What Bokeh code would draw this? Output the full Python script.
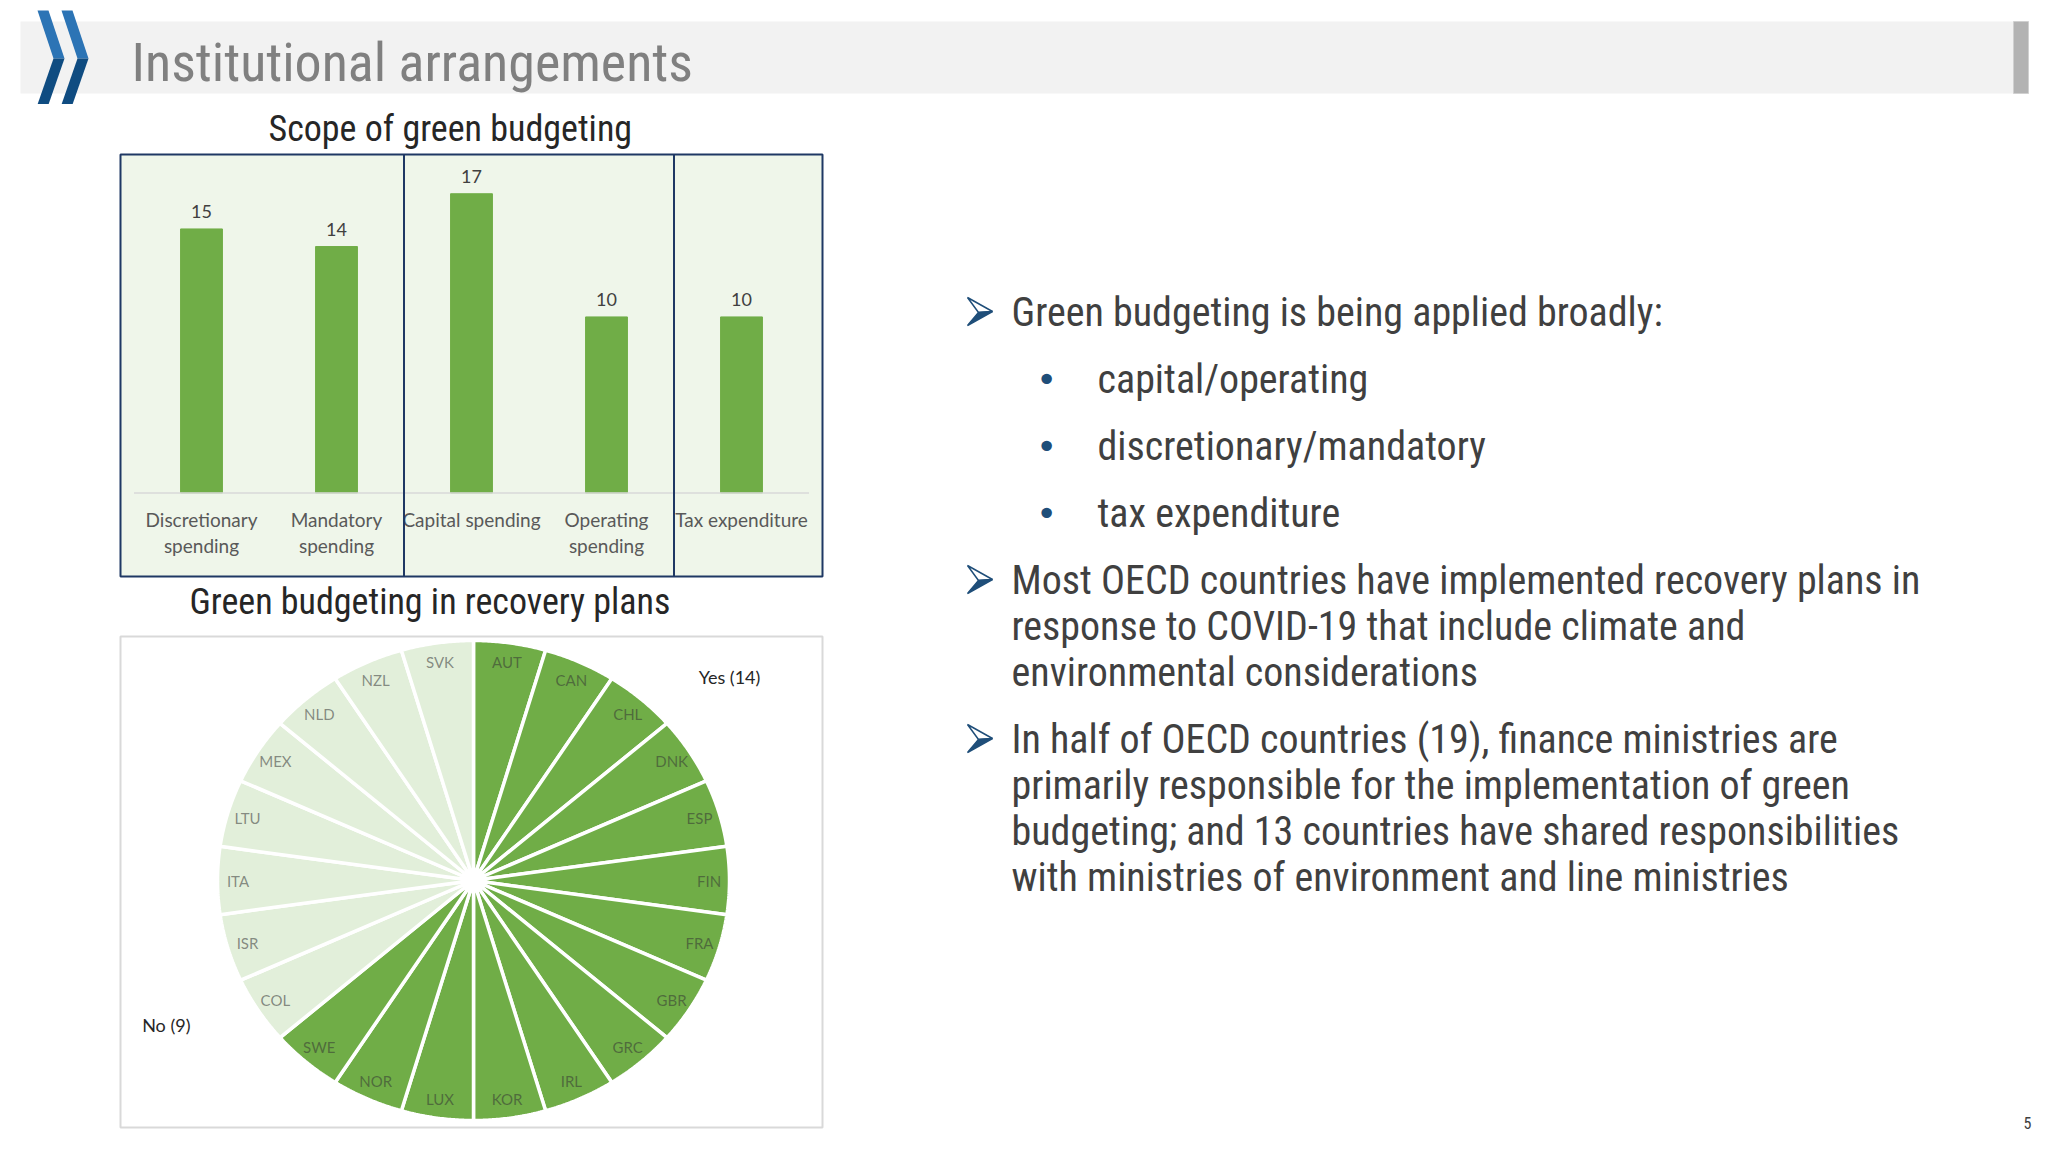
import numpy as np
from bokeh.plotting import figure
from bokeh.models import Range1d, Span, FactorRange, Label
from bokeh.layouts import column, row
from bokeh.embed import file_html
from bokeh.resources import INLINE
from bokeh.core.properties import value

# ---------------- data ----------------
slide_title = "Institutional arrangements"
page_number = "5"

bar_title = "Scope of green budgeting"
bar_categories = ["Discretionary spending", "Mandatory spending", "Capital spending",
                  "Operating spending", "Tax expenditure"]
bar_tick_labels = ["Discretionary\nspending", "Mandatory\nspending", "Capital spending",
                   "Operating\nspending", "Tax expenditure"]
bar_values = [15, 14, 17, 10, 10]
bar_group_sizes = [2, 2, 1]

pie_title = "Green budgeting in recovery plans"
pie_countries = ["AUT", "CAN", "CHL", "DNK", "ESP", "FIN", "FRA", "GBR", "GRC", "IRL", "KOR",
                 "LUX", "NOR", "SWE", "COL", "ISR", "ITA", "LTU", "MEX", "NLD", "NZL", "SVK"]
pie_answers = ["Yes", "Yes", "Yes", "Yes", "Yes", "Yes", "Yes", "Yes", "Yes", "Yes", "Yes",
               "Yes", "Yes", "Yes", "No", "No", "No", "No", "No", "No", "No", "No"]
pie_values = [1, 1, 1, 1, 1, 1, 1, 1, 1, 1, 1, 1, 1, 1, 1, 1, 1, 1, 1, 1, 1, 1]
pie_group_labels = ["Yes (14)", "No (9)"]

text_items = [
    ("arrow", ["Green budgeting is being applied broadly:"]),
    ("dot", ["capital/operating"]),
    ("dot", ["discretionary/mandatory"]),
    ("dot", ["tax expenditure"]),
    ("arrow", ["Most OECD countries have implemented recovery plans in",
               "response to COVID-19 that include climate and",
               "environmental considerations"]),
    ("arrow", ["In half of OECD countries (19), finance ministries are",
               "primarily responsible for the implementation of green",
               "budgeting; and 13 countries have shared responsibilities",
               "with ministries of environment and line ministries"]),
]

# ---------------- styles ----------------
NARROW = "Roboto Condensed"
CAL = "Lato"
GREEN = "#70ad47"
LIGHT = "#e2efda"
NAVY = "#1f3864"
BLUE = "#1f4e79"
LEFT_COL_W = 840
BORDER_L, BORDER_R = 120, 18   # shared frame borders of the left-hand column


def canvas(x0, x1, y0, y1, bl=0, br=0):
    p = figure(width=x1 - x0, height=y1 - y0, x_range=Range1d(x0 + bl, x1 - br), y_range=Range1d(y1, y0),
               output_backend="svg", toolbar_location=None, x_axis_type=None, y_axis_type=None,
               min_border_left=bl, min_border_right=br, min_border_top=0, min_border_bottom=0)
    p.outline_line_color = None
    p.background_fill_color = "white"
    p.border_fill_color = "white"
    return p


# ---------------- header ----------------
hdr = canvas(0, 2040, 0, 104)
hdr.quad(left=[20], right=[2013], top=[21], bottom=[93], color="#f2f2f2", line_color=None)
hdr.quad(left=[2013], right=[2028], top=[21], bottom=[93], color="#b3b3b3", line_color="#d0d0d0")
for dx in (0, 24):
    hdr.patch([37 + dx, 48 + dx, 64 + dx, 53 + dx], [10, 10, 58, 58], color="#2c74b5", line_color=None)
    hdr.patch([53 + dx, 64 + dx, 48 + dx, 37 + dx], [58, 58, 104, 104], color="#0f4c81", line_color=None)
hdr.text(x=[131], y=[62], text=[slide_title], text_font=value(NARROW), text_font_size="54px",
         text_color="#808080", text_baseline="middle", text_align="left")

# ---------------- bar chart ----------------
bt = canvas(0, LEFT_COL_W, 104, 152, BORDER_L, BORDER_R)
bt.text(x=[268], y=[128], text=[bar_title], text_font=value(NARROW), text_font_size="36px",
        text_color="#262626", text_baseline="middle", text_align="left")

bar = figure(width=LEFT_COL_W, height=426,
             x_range=FactorRange(factors=bar_categories, range_padding=0.1, range_padding_units="absolute"),
             y_range=Range1d(-4.75, 19.23), output_backend="svg", toolbar_location=None,
             x_axis_type=None, y_axis_type=None,
             min_border_left=BORDER_L, min_border_right=BORDER_R, min_border_top=2, min_border_bottom=2)
bar.background_fill_color = "#eff6ea"
bar.border_fill_color = "white"
bar.outline_line_color = NAVY
bar.outline_line_width = 2
bar.vbar(x=bar_categories, top=bar_values, width=0.31, color=GREEN)
bar.segment(x0=[0], x1=[len(bar_categories)], y0=[0], y1=[0], line_color="#d9d9d9", line_width=1.5)
for loc in np.cumsum(bar_group_sizes)[:-1]:
    bar.add_layout(Span(location=float(loc), dimension="height", line_color=NAVY, line_width=2))
bar.text(x=bar_categories, y=bar_values, text=[str(v) for v in bar_values], y_offset=-11,
         text_font=value(CAL), text_font_size="18px", text_color="#404040",
         text_align="center", text_baseline="bottom")
bar.text(x=bar_categories, y=[-0.85] * len(bar_categories), text=bar_tick_labels,
         text_font=value(CAL), text_font_size="19px", text_color="#595959",
         text_align="center", text_baseline="top", text_line_height=1.15)

# ---------------- pie chart ----------------
pt = canvas(0, LEFT_COL_W, 578, 632, BORDER_L, BORDER_R)
pt.text(x=[189], y=[601], text=[pie_title], text_font=value(NARROW), text_font_size="36px",
        text_color="#262626", text_baseline="middle", text_align="left")

# pie placement inside its frame (pixels): centre and radii
frame_w, frame_h = LEFT_COL_W - BORDER_L - BORDER_R, 491
cx, cy, rx, ry = 353, 244, 256, 240
pie = figure(width=LEFT_COL_W, height=512,
             x_range=Range1d(-cx / rx, (frame_w - cx) / rx),
             y_range=Range1d(-(frame_h - cy) / ry, cy / ry),
             output_backend="svg", toolbar_location=None, x_axis_type=None, y_axis_type=None,
             min_border_left=BORDER_L, min_border_right=BORDER_R, min_border_top=4, min_border_bottom=17)
pie.background_fill_color = "white"
pie.border_fill_color = "white"
pie.outline_line_color = "#d9d9d9"
pie.outline_line_width = 2

vals = np.array(pie_values, dtype=float)
cum = np.concatenate([[0], np.cumsum(vals)]) / vals.sum()
angles = np.pi / 2 - 2 * np.pi * cum
xs, ys, cols, mids = [], [], [], []
for i in range(len(vals)):
    t = np.linspace(angles[i], angles[i + 1], 40)
    xs.append(np.concatenate([[0], np.cos(t)]))
    ys.append(np.concatenate([[0], np.sin(t)]))
    cols.append(GREEN if pie_answers[i] == "Yes" else LIGHT)
    mids.append((angles[i] + angles[i + 1]) / 2)
pie.patches(xs=xs, ys=ys, fill_color=cols, line_color="white", line_width=3.5)
pie.ellipse(x=[0], y=[0], width=[0.1], height=[0.1], color="white")
mids = np.array(mids)
pie.text(x=0.92 * np.cos(mids), y=0.92 * np.sin(mids), text=pie_countries,
         text_font=value(CAL), text_font_size="15px", text_color="#333333", text_alpha=0.55,
         text_align="center", text_baseline="middle")
pie.add_layout(Label(x=1.0, y=0.85, text=pie_group_labels[0], text_font=CAL, text_font_size="18px",
                     text_color="#262626", text_align="center", text_baseline="middle"))
pie.add_layout(Label(x=-1.2, y=-0.6, text=pie_group_labels[1], text_font=CAL, text_font_size="18px",
                     text_color="#262626", text_align="center", text_baseline="middle"))

# ---------------- right-hand text ----------------
tx = canvas(LEFT_COL_W, 2040, 104, 1144)
y = 312
line_step, item_step = 46, 67
for kind, lines in text_items:
    if kind == "arrow":
        ax = 980
        tx.patch([ax - 13, ax + 12, ax - 2], [y - 15, y - 1, y], fill_color="white",
                 line_color=BLUE, line_width=1.5)
        tx.patch([ax - 2, ax + 12, ax - 13], [y, y - 1, y + 13], fill_color=BLUE,
                 line_color=BLUE, line_width=1.5)
        x_text = 1011
    else:
        tx.text(x=[1046], y=[y], text=["•"], text_font=value("DejaVu Sans"), text_font_size="36px",
                text_color=BLUE, text_align="center", text_baseline="middle")
        x_text = 1097
    ly = [y + k * line_step for k in range(len(lines))]
    tx.text(x=[x_text] * len(lines), y=ly, text=lines, text_font=value(NARROW), text_font_size="40px",
            text_color="#404040", text_align="left", text_baseline="middle")
    y = ly[-1] + item_step
tx.text(x=[2023], y=[1122], text=[page_number], text_font=value(NARROW), text_font_size="16px",
        text_color="#404040", text_align="left", text_baseline="middle")

layout = column(hdr, row(column(bt, bar, pt, pie), tx))
open("out.html", "w").write(file_html(layout, INLINE))
